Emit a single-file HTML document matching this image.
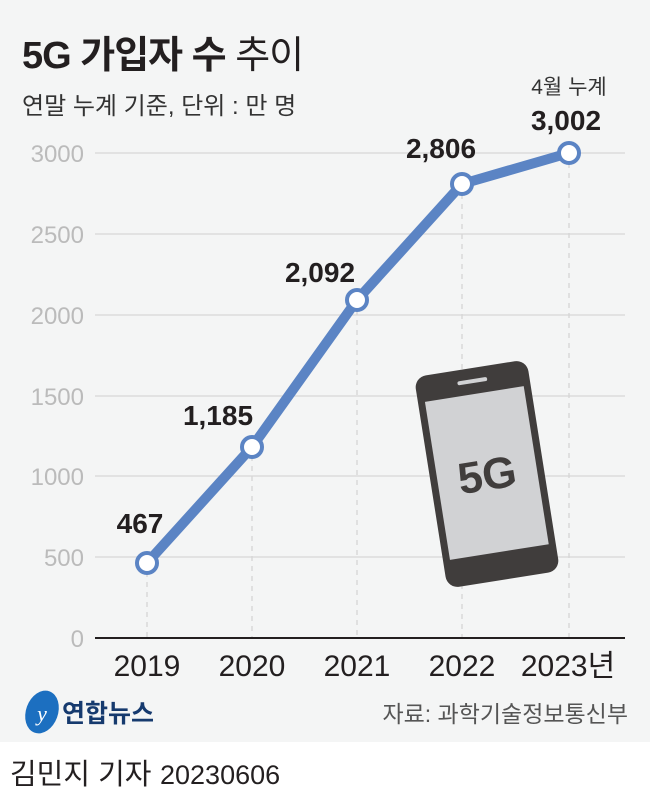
<!DOCTYPE html>
<html><head><meta charset="utf-8"><style>
body{margin:0;width:650px;height:802px;overflow:hidden;background:#fff;font-family:"Liberation Sans","Noto Sans CJK KR",sans-serif}
</style></head><body>
<svg width="650" height="802" xmlns="http://www.w3.org/2000/svg" style="display:block">
<rect x="0" y="0" width="650" height="742" fill="#f4f5f5"/>
<text x="22" y="68" font-size="38" font-weight="bold" fill="#231f20" font-family="Liberation Sans,Noto Sans CJK KR,sans-serif" letter-spacing="-1">5G 가입자 수 <tspan font-weight="normal">추이</tspan></text>
<text x="22" y="114" font-size="24" fill="#333" font-family="Liberation Sans,Noto Sans CJK KR,sans-serif">연말 누계 기준, 단위 : 만 명</text>
<g stroke="#d8d8d8" stroke-width="1.3">
<line x1="95" y1="153" x2="625" y2="153"/><line x1="95" y1="234" x2="625" y2="234"/><line x1="95" y1="315" x2="625" y2="315"/><line x1="95" y1="396" x2="625" y2="396"/><line x1="95" y1="476" x2="625" y2="476"/><line x1="95" y1="557" x2="625" y2="557"/>
</g>
<g stroke="#d5d5d5" stroke-width="1.3" stroke-dasharray="5,5">
<line x1="147" y1="562" x2="147" y2="638"/><line x1="252" y1="446" x2="252" y2="638"/><line x1="357" y1="300" x2="357" y2="638"/><line x1="462" y1="184" x2="462" y2="638"/><line x1="569" y1="153" x2="569" y2="638"/>
</g>
<g font-size="24" fill="#bbb" text-anchor="end" font-family="Liberation Sans,sans-serif">
<text x="84" y="162">3000</text><text x="84" y="243">2500</text><text x="84" y="324">2000</text><text x="84" y="405">1500</text><text x="84" y="485">1000</text><text x="84" y="566">500</text><text x="84" y="647">0</text>
</g>
<line x1="95" y1="638" x2="625" y2="638" stroke="#231f20" stroke-width="2"/>
<g font-size="30" fill="#231f20" text-anchor="middle" font-family="Liberation Sans,Noto Sans CJK KR,sans-serif">
<text x="147" y="676">2019</text><text x="252" y="676">2020</text><text x="357" y="676">2021</text><text x="462" y="676">2022</text><text x="568" y="676">2023년</text>
</g>
<g transform="rotate(-9 487 474)">
<rect x="430" y="367" width="114" height="214" rx="12" fill="#403d3c"/>
<rect x="437" y="393" width="100" height="160" fill="#d1d2d4"/>
<rect x="472" y="378" width="30" height="4" rx="2" fill="#d1d2d4"/>
<text x="487" y="490" font-size="44" font-weight="bold" fill="#403d3c" text-anchor="middle" font-family="Liberation Sans,sans-serif">5G</text>
</g>
<polyline points="147,563 252,447 357,300 462,184 569,153" fill="none" stroke="#5b84c4" stroke-width="10" stroke-linejoin="round"/>
<g fill="#fff" stroke="#5b84c4" stroke-width="4">
<circle cx="147" cy="563" r="10"/><circle cx="252" cy="447" r="10"/><circle cx="357" cy="300" r="10"/><circle cx="462" cy="184" r="10"/><circle cx="569" cy="153" r="10"/>
</g>
<g font-size="28" font-weight="bold" fill="#231f20" text-anchor="middle" font-family="Liberation Sans,sans-serif">
<text x="140" y="533">467</text><text x="218" y="425">1,185</text><text x="320" y="282">2,092</text><text x="441" y="158">2,806</text><text x="566" y="130">3,002</text>
</g>
<text x="569" y="94" font-size="21" fill="#333" text-anchor="middle" font-family="Liberation Sans,Noto Sans CJK KR,sans-serif">4월 누계</text>
<ellipse cx="42" cy="712" rx="16" ry="22" fill="#1c6fc0" transform="rotate(20 42 712)"/>
<text x="42" y="721" font-size="22" font-style="italic" fill="#fff" text-anchor="middle" font-family="Liberation Serif,serif">y</text>
<text x="62" y="722" font-size="25" font-weight="bold" fill="#163a6e" font-family="Liberation Sans,Noto Sans CJK KR,sans-serif">연합뉴스</text>
<text x="628" y="722" font-size="23" fill="#555" text-anchor="end" font-family="Liberation Sans,Noto Sans CJK KR,sans-serif">자료: 과학기술정보통신부</text>
<text x="10" y="784" font-size="29" fill="#231f20" font-family="Liberation Sans,Noto Sans CJK KR,sans-serif">김민지 기자</text>
<text x="160" y="784" font-size="27" fill="#231f20" font-family="Liberation Sans,sans-serif">20230606</text>
</svg>
</body></html>
